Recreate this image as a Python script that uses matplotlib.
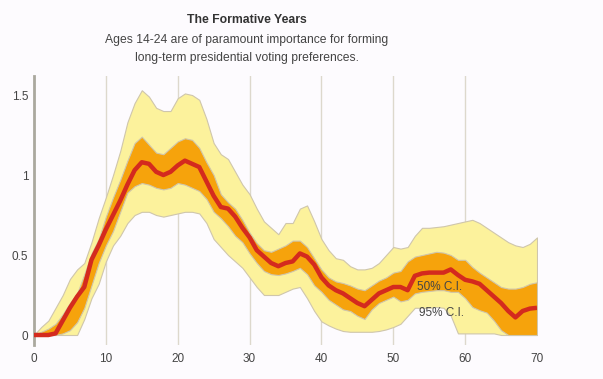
import numpy as np
import matplotlib.pyplot as plt

# Age (x) and estimated effect with confidence bands
ages = np.arange(0, 71)

mean = [0, 0, 0, 0.01, 0.09, 0.17, 0.24, 0.30, 0.47, 0.56,
        0.66, 0.75, 0.84, 0.94, 1.03, 1.08, 1.07, 1.02, 1.00, 1.02,
        1.06, 1.09, 1.07, 1.05, 0.96, 0.87, 0.80, 0.79, 0.74, 0.67,
        0.61, 0.53, 0.49, 0.45, 0.43, 0.45, 0.46, 0.51, 0.49, 0.44,
        0.36, 0.31, 0.28, 0.26, 0.23, 0.20, 0.18, 0.22, 0.26, 0.28,
        0.30, 0.30, 0.28, 0.37, 0.385, 0.39, 0.39, 0.39, 0.41, 0.375,
        0.345, 0.335, 0.32, 0.28, 0.24, 0.20, 0.15, 0.11, 0.15, 0.165,
        0.17]

ci50_hi = [0, 0.02, 0.04, 0.07, 0.13, 0.20, 0.26, 0.38, 0.51, 0.60,
           0.74, 0.86, 0.97, 1.09, 1.20, 1.24, 1.19, 1.14, 1.13, 1.17,
           1.21, 1.23, 1.22, 1.17, 1.08, 1.00, 0.88, 0.83, 0.79, 0.72,
           0.64, 0.575, 0.53, 0.52, 0.54, 0.56, 0.59, 0.59, 0.55, 0.48,
           0.41, 0.36, 0.335, 0.325, 0.31, 0.29, 0.28, 0.31, 0.34, 0.36,
           0.39, 0.40, 0.46, 0.49, 0.50, 0.51, 0.52, 0.515, 0.50, 0.47,
           0.47, 0.425, 0.39, 0.36, 0.33, 0.30, 0.29, 0.29, 0.30, 0.32,
           0.33]

ci50_lo = [0, 0, 0, 0, 0.01, 0.03, 0.08, 0.17, 0.31, 0.45,
           0.56, 0.65, 0.77, 0.89, 0.93, 0.95, 0.94, 0.92, 0.91, 0.92,
           0.95, 0.94, 0.92, 0.90, 0.85, 0.77, 0.73, 0.68, 0.62, 0.58,
           0.51, 0.45, 0.40, 0.38, 0.375, 0.385, 0.40, 0.42, 0.38, 0.31,
           0.27, 0.22, 0.19, 0.16, 0.15, 0.12, 0.10, 0.16, 0.20, 0.22,
           0.24, 0.21, 0.22, 0.26, 0.27, 0.275, 0.28, 0.28, 0.27, 0.27,
           0.23, 0.175, 0.155, 0.14, 0.09, 0.03, 0, 0, 0, 0,
           0]

ci95_hi = [0, 0.05, 0.09, 0.17, 0.25, 0.35, 0.41, 0.45, 0.58, 0.73,
           0.86, 1.00, 1.15, 1.33, 1.45, 1.53, 1.49, 1.42, 1.40, 1.40,
           1.48, 1.51, 1.50, 1.47, 1.35, 1.20, 1.13, 1.10, 1.02, 0.94,
           0.88, 0.79, 0.71, 0.67, 0.63, 0.70, 0.70, 0.79, 0.81, 0.71,
           0.60, 0.53, 0.48, 0.47, 0.43, 0.41, 0.41, 0.42, 0.45, 0.50,
           0.55, 0.54, 0.55, 0.62, 0.67, 0.67, 0.675, 0.68, 0.69, 0.70,
           0.71, 0.72, 0.70, 0.67, 0.64, 0.61, 0.58, 0.56, 0.55, 0.57,
           0.61]

ci95_lo = [0, 0, 0, 0, 0, 0, 0, 0.10, 0.23, 0.32,
           0.46, 0.56, 0.62, 0.70, 0.75, 0.77, 0.77, 0.75, 0.74, 0.75,
           0.76, 0.77, 0.77, 0.76, 0.70, 0.60, 0.55, 0.50, 0.46, 0.42,
           0.36, 0.30, 0.25, 0.25, 0.25, 0.27, 0.29, 0.30, 0.23, 0.15,
           0.085, 0.06, 0.04, 0.025, 0.02, 0.02, 0.02, 0.02, 0.025, 0.035,
           0.05, 0.07, 0.12, 0.17, 0.17, 0.17, 0.175, 0.17, 0.12, 0.01,
           0.01, 0.01, 0.01, 0.01, 0.01, 0, 0, 0, 0, 0,
           0]

xticks = [0, 10, 20, 30, 40, 50, 60, 70]
yticks = [0, 0.5, 1, 1.5]
ytick_labels = ['0', '0.5', '1', '1.5']

plt.rcParams['font.family'] = ['Liberation Sans', 'DejaVu Sans']

bg = '#fdfbfe'
fig = plt.figure(figsize=(6.03, 3.79), dpi=100, facecolor=bg)
ax = fig.add_axes([34 / 603, 1 - 345 / 379, 503 / 603, 269 / 379])
ax.set_facecolor(bg)

# gridlines (only inside the range)
for gx in xticks[1:-1]:
    ax.axvline(gx, color='#ddd8cc', lw=1, zorder=0)

edge = '#cfc6ac'
ax.fill_between(ages, ci95_lo, ci95_hi, color='#fcf29c', edgecolor=edge, lw=0.8,
                joinstyle='round', zorder=1)
ax.fill_between(ages, ci50_lo, ci50_hi, color='#f6a30c', edgecolor=edge, lw=0.8,
                joinstyle='round', zorder=2)
ax.plot(ages, mean, color='#d42a1e', lw=3.2, solid_capstyle='butt',
        solid_joinstyle='round', zorder=3)

ax.text(56.5, 0.30, '50% C.I.', ha='center', va='center', fontsize=8.5, color='#444444', zorder=4)
ax.text(56.7, 0.14, '95% C.I.', ha='center', va='center', fontsize=8.5, color='#444444', zorder=4)

ax.set_xlim(0, 70)
ax.set_ylim(-0.0625, 1.619)
ax.set_xticks(xticks)
ax.set_yticks(yticks)
ax.set_yticklabels(ytick_labels)
ax.tick_params(length=0, labelsize=8.5, colors='#444444')
ax.tick_params(axis='y', pad=4)
ax.tick_params(axis='x', pad=6)
for s in ['top', 'right', 'bottom']:
    ax.spines[s].set_visible(False)
ax.spines['left'].set_color('#aaa89e')
ax.spines['left'].set_linewidth(2)

fig.text(247 / 603, 1 - 20 / 379, 'The Formative Years', ha='center', va='center',
         fontsize=8.8, fontweight='bold', color='#333333')
fig.text(247 / 603, 1 - 40 / 379, 'Ages 14-24 are of paramount importance for forming',
         ha='center', va='center', fontsize=8.7, color='#444444')
fig.text(247 / 603, 1 - 58 / 379, 'long-term presidential voting preferences.',
         ha='center', va='center', fontsize=8.7, color='#444444')

fig.savefig('out.png', dpi=100, facecolor=bg)
